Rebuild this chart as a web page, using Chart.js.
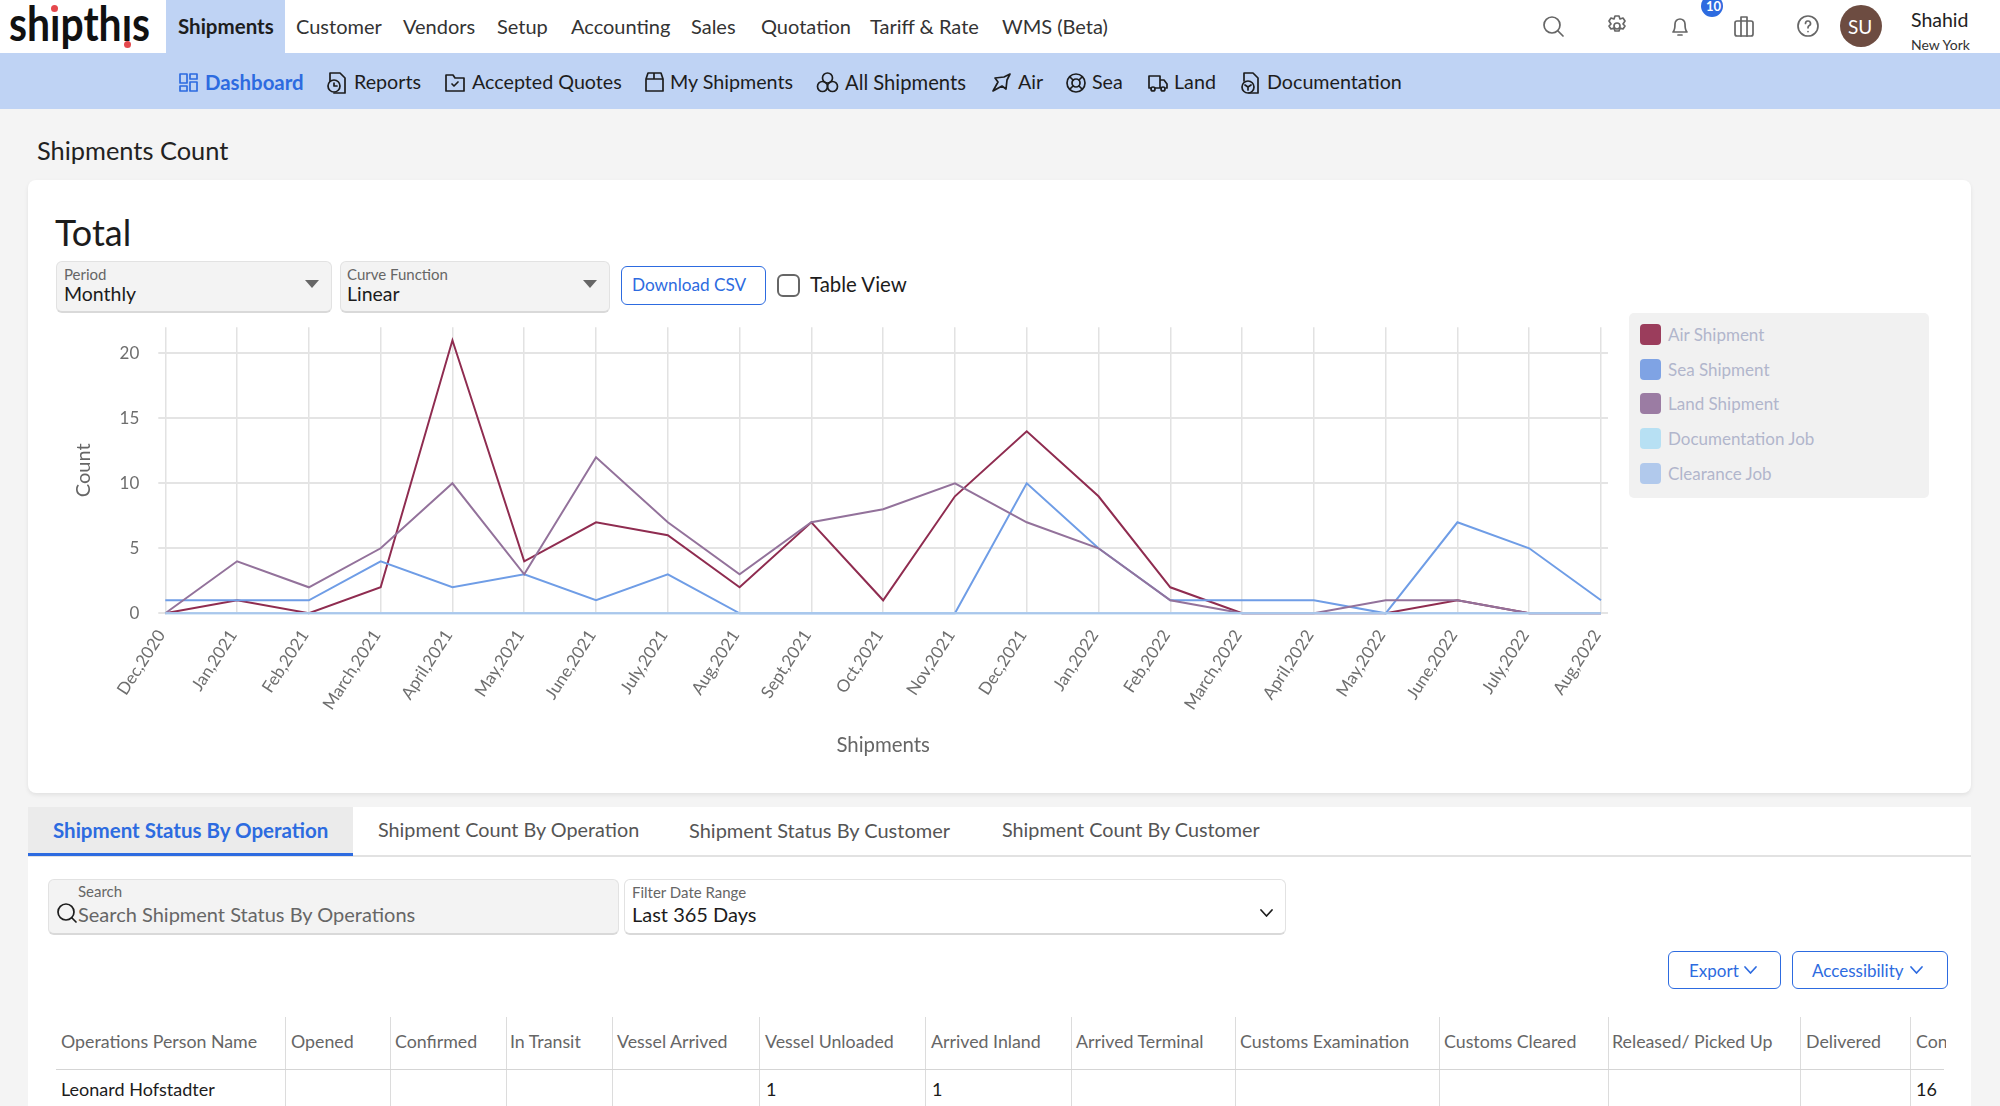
<!DOCTYPE html>
<html>
<head>
<meta charset="utf-8">
<title>Shipments Count</title>
<script src="https://cdn.jsdelivr.net/npm/chart.js@4"></script>
<style>
html, body { margin: 0; padding: 0; }
body { width: 2000px; height: 1106px; overflow: hidden; background: #f4f4f4; position: relative;
  font-family: Lato, "Noto Sans", sans-serif; color: #1c1c1c; }
.box { position: absolute; box-sizing: border-box; }
.t { position: absolute; white-space: nowrap; transform: translateY(-50%); line-height: 1; }
.nav { font-size: 20px; color: #333; top: 26px; }
.sub { font-size: 19.7px; color: #1d1d1d; top: 81.5px; }
.blue { color: #2d6be0; }
.hd { font-size: 17.8px; color: #666; top: 1042px; }
.vl { position: absolute; top: 1017px; bottom: 0; width: 1px; background: #dcdcdc; }
.field { background: #f3f3f3; border: 1px solid #e2e2e2; border-bottom: 2px solid #d9d9d9; border-radius: 6px; }
.small { font-size: 15px; color: #666; }
.btn { border: 1.5px solid #2d6be0; border-radius: 6px; background: #fff; }
svg.i { position: absolute; fill: none; stroke: #1d1d1d; stroke-width: 1.7; stroke-linecap: round; stroke-linejoin: round; }
svg.g { stroke: #666; }
#legend { position: absolute; left: 1629px; top: 313px; width: 300px; height: 185px; background: #f1f1f1; border-radius: 5px; }
#legend div.sw { position: absolute; left: 11px; width: 21px; height: 21px; border-radius: 4px; }
#legend span { position: absolute; left: 39px; font-size: 17px; line-height: 21px; color: #b1b6cc; white-space: nowrap; }
#chartWrap { position: absolute; left: 60px; top: 320px; width: 1560px; height: 450px; }
</style>
</head>
<body>

<!-- top bar -->
<div class="box" style="left:0;top:0;width:2000px;height:53px;background:#fff"></div>
<div class="box" style="left:166px;top:0;width:119px;height:53px;background:#bfd3f4"></div>
<div class="t" style="left:9px;top:23px;font-size:47px;font-weight:700;color:#111;transform:translateY(-50%) scaleX(.87);transform-origin:left center">sh&#305;pth&#305;s</div>
<div class="box" style="left:51px;top:5px;width:7px;height:7px;border-radius:50%;background:#e5484d"></div>
<div class="box" style="left:124px;top:41px;width:7px;height:7px;border-radius:50%;background:#e5484d"></div>
<div class="t nav" style="left:178px;font-size:20.5px;font-weight:700;color:#1d1d1d">Shipments</div>
<div class="t nav" style="left:296px">Customer</div>
<div class="t nav" style="left:403px">Vendors</div>
<div class="t nav" style="left:497px">Setup</div>
<div class="t nav" style="left:571px">Accounting</div>
<div class="t nav" style="left:691px">Sales</div>
<div class="t nav" style="left:761px">Quotation</div>
<div class="t nav" style="left:870px">Tariff &amp; Rate</div>
<div class="t nav" style="left:1002px">WMS (Beta)</div>

<svg class="i g" style="left:1541px;top:14px" width="24" height="24" viewBox="0 0 24 24"><circle cx="11" cy="11" r="8"/><path d="M17 17l5 5"/></svg>
<svg class="i g" style="left:1605px;top:14px" width="24" height="24" viewBox="0 0 24 24"><circle cx="12" cy="12" r="3"/><path d="M10 2h4l1 3 3-1 2 3-2 3 2 2-2 3-3-1-1 3h-4l-1-3-3 1-2-3 2-2-2-3 2-3 3 1z"/></svg>
<svg class="i g" style="left:1668px;top:14px" width="24" height="24" viewBox="0 0 24 24"><path d="M5 18c2-2 2-5 2-8a5 5 0 0 1 10 0c0 3 0 6 2 8zM10 21h4"/></svg>
<svg class="i g" style="left:1732px;top:14px" width="24" height="24" viewBox="0 0 24 24"><rect x="3" y="7" width="18" height="15" rx="2"/><path d="M9 7v15M15 7v15M9 7V3h6v4"/></svg>
<svg class="i g" style="left:1796px;top:14px" width="24" height="24" viewBox="0 0 24 24"><circle cx="12" cy="12" r="10"/><path d="M9.500 9.500a2.500 2.500 0 1 1 3.500 2.300c-.8.400-1 1-1 2M12 17.500v.1"/></svg>
<div class="box" style="left:1701px;top:-5px;width:22px;height:22px;border-radius:50%;background:#2d6be0"></div>
<div class="t" style="left:1706px;top:6px;font-size:13px;font-weight:700;color:#fff">10</div>
<div class="box" style="left:1840px;top:5px;width:42px;height:42px;border-radius:50%;background:#6d4c41"></div>
<div class="t" style="left:1848px;top:26px;font-size:19px;color:#fff">SU</div>
<div class="t" style="left:1911px;top:20px;font-size:19.5px;color:#222">Shahid</div>
<div class="t" style="left:1911px;top:45px;font-size:14px;color:#333">New York</div>

<!-- sub bar -->
<div class="box" style="left:0;top:53px;width:2000px;height:56px;background:#bfd3f4"></div>
<svg class="i" style="left:178px;top:72px;stroke:#2d6be0" width="21" height="21" viewBox="0 0 21 21"><rect x="2" y="2" width="7" height="9"/><rect x="12" y="2" width="7" height="5"/><rect x="2" y="14" width="7" height="5"/><rect x="12" y="10" width="7" height="9"/></svg>
<div class="t sub blue" style="left:205px;font-size:20.4px;font-weight:700">Dashboard</div>
<svg class="i" style="left:326px;top:71px" width="22" height="24" viewBox="0 0 22 24"><path d="M4 10V2h10l5 5v15H8"/><circle cx="8" cy="15" r="6"/><path d="M8 12v3h3"/></svg>
<div class="t sub" style="left:354px">Reports</div>
<svg class="i" style="left:444px;top:72px" width="22" height="21" viewBox="0 0 22 21"><path d="M2 3h7l2 3h9v13H2z"/><path d="M8 12l2 2 4-4"/></svg>
<div class="t sub" style="left:472px">Accepted Quotes</div>
<svg class="i" style="left:644px;top:71px" width="21" height="22" viewBox="0 0 21 22"><path d="M2 8l2-6h13l2 6v12H2zM2 8h17M10 2v6"/></svg>
<div class="t sub" style="left:670px">My Shipments</div>
<svg class="i" style="left:816px;top:71px" width="23" height="23" viewBox="0 0 23 23"><circle cx="11.500" cy="7" r="5"/><circle cx="6.500" cy="15.500" r="5"/><circle cx="16.500" cy="15.500" r="5"/></svg>
<div class="t sub" style="left:845px;font-size:20.200px">All Shipments</div>
<svg class="i" style="left:991px;top:72px" width="21" height="21" viewBox="0 0 21 21"><path d="M19 2l-6 3-9 1 3 4-5 9 9-5 4 3 1-9z"/></svg>
<div class="t sub" style="left:1018px">Air</div>
<svg class="i" style="left:1065px;top:72px" width="22" height="22" viewBox="0 0 22 22"><circle cx="11" cy="11" r="9"/><circle cx="11" cy="11" r="4"/><path d="M5 5l3 3M17 5l-3 3M5 17l3-3M17 17l-3-3"/></svg>
<div class="t sub" style="left:1092px">Sea</div>
<svg class="i" style="left:1147px;top:73px" width="22" height="20" viewBox="0 0 22 20"><path d="M4 15H2V3h11v12H8M13 7h4l3 4v4h-1M13 15h1"/><circle cx="6" cy="16" r="2"/><circle cx="16" cy="16" r="2"/></svg>
<div class="t sub" style="left:1174px">Land</div>
<svg class="i" style="left:1240px;top:71px" width="21" height="24" viewBox="0 0 21 24"><path d="M4 10V2h9l5 5v15H9"/><circle cx="8" cy="16" r="6"/><path d="M8 16v3M8 16l-3-2M8 16l3-2"/></svg>
<div class="t sub" style="left:1267px">Documentation</div>

<div class="t" style="left:37px;top:151px;font-size:25.400px;color:#222">Shipments Count</div>

<!-- chart card -->
<div class="box" style="left:28px;top:180px;width:1943px;height:613px;background:#fff;border-radius:8px;box-shadow:0 2px 4px rgba(0,0,0,.08)"></div>
<div class="t" style="left:55px;top:232px;font-size:36px;color:#1c1c1c">Total</div>

<div class="box field" style="left:56px;top:261px;width:276px;height:52px"></div>
<div class="t small" style="left:64px;top:274px">Period</div>
<div class="t" style="left:64px;top:294px;font-size:19.500px">Monthly</div>
<svg class="box" style="left:305px;top:279px" width="15" height="10"><path d="M0 1h14L7 9z" fill="#666"/></svg>
<div class="box field" style="left:340px;top:261px;width:270px;height:52px"></div>
<div class="t small" style="left:347px;top:274px">Curve Function</div>
<div class="t" style="left:347px;top:294px;font-size:19.500px">Linear</div>
<svg class="box" style="left:583px;top:279px" width="15" height="10"><path d="M0 1h14L7 9z" fill="#666"/></svg>
<div class="box btn" style="left:621px;top:266px;width:145px;height:39px"></div>
<div class="t blue" style="left:632px;top:285px;font-size:17.200px">Download CSV</div>
<div class="box" style="left:777px;top:274px;width:23px;height:23px;border:2px solid #666;border-radius:6px"></div>
<div class="t" style="left:810px;top:284px;font-size:20.400px">Table View</div>

<div id="chartWrap"><canvas id="chartCount"></canvas></div>
<div id="legend"></div>

<!-- tabs -->
<div class="box" style="left:28px;top:807px;width:1943px;height:299px;background:#fff"></div>
<div class="box" style="left:28px;top:855px;width:1943px;height:2px;background:#e2e2e2"></div>
<div class="box" style="left:28px;top:807px;width:325px;height:46px;background:#ebebeb"></div>
<div class="box" style="left:28px;top:853px;width:325px;height:3px;background:#2d6be0"></div>
<div class="t blue" style="left:53px;top:830px;font-size:20.500px;font-weight:700">Shipment Status By Operation</div>
<div class="t" style="left:378px;top:830px;font-size:19.800px;color:#555">Shipment Count By Operation</div>
<div class="t" style="left:689px;top:830px;font-size:20px;color:#555">Shipment Status By Customer</div>
<div class="t" style="left:1002px;top:830px;font-size:19.800px;color:#555">Shipment Count By Customer</div>

<div class="box field" style="left:48px;top:879px;width:571px;height:56px"></div>
<div class="t small" style="left:78px;top:891px">Search</div>
<svg class="i" style="left:56px;top:902px" width="22" height="22" viewBox="0 0 22 22"><circle cx="10" cy="10" r="8"/><path d="M16 16l4 4"/></svg>
<div class="t" style="left:78px;top:914px;font-size:20px;color:#666">Search Shipment Status By Operations</div>
<div class="box field" style="left:624px;top:879px;width:662px;height:56px;background:#fff"></div>
<div class="t small" style="left:632px;top:892px">Filter Date Range</div>
<div class="t" style="left:632px;top:914px;font-size:20px">Last 365 Days</div>
<svg class="i" style="left:1259px;top:907px" width="15" height="12" viewBox="0 0 15 12"><path d="M2 3l5.500 6L13 3"/></svg>

<div class="box btn" style="left:1668px;top:951px;width:113px;height:38px"></div>
<div class="t blue" style="left:1689px;top:970px;font-size:17px">Export</div>
<svg class="i" style="left:1743px;top:964px;stroke:#2d6be0" width="15" height="12" viewBox="0 0 15 12"><path d="M2 3l5.500 6L13 3"/></svg>
<div class="box btn" style="left:1792px;top:951px;width:156px;height:38px"></div>
<div class="t blue" style="left:1812px;top:970px;font-size:17px">Accessibility</div>
<svg class="i" style="left:1909px;top:964px;stroke:#2d6be0" width="15" height="12" viewBox="0 0 15 12"><path d="M2 3l5.500 6L13 3"/></svg>

<!-- table -->
<div class="vl" style="left:285px"></div><div class="vl" style="left:390px"></div><div class="vl" style="left:506px"></div>
<div class="vl" style="left:612px"></div><div class="vl" style="left:759px"></div><div class="vl" style="left:925px"></div>
<div class="vl" style="left:1071px"></div><div class="vl" style="left:1235px"></div><div class="vl" style="left:1439px"></div>
<div class="vl" style="left:1608px"></div><div class="vl" style="left:1800px"></div><div class="vl" style="left:1910px"></div>
<div class="box" style="left:56px;top:1069px;width:1888px;height:1px;background:#d5d5d5"></div>
<div class="t hd" style="left:61px">Operations Person Name</div>
<div class="t hd" style="left:291px">Opened</div>
<div class="t hd" style="left:395px">Confirmed</div>
<div class="t hd" style="left:510px">In Transit</div>
<div class="t hd" style="left:617px">Vessel Arrived</div>
<div class="t hd" style="left:765px">Vessel Unloaded</div>
<div class="t hd" style="left:931px">Arrived Inland</div>
<div class="t hd" style="left:1076px">Arrived Terminal</div>
<div class="t hd" style="left:1240px">Customs Examination</div>
<div class="t hd" style="left:1444px">Customs Cleared</div>
<div class="t hd" style="left:1612px">Released/ Picked Up</div>
<div class="t hd" style="left:1806px">Delivered</div>
<div class="t hd" style="left:1916px;width:30px;overflow:hidden">Con</div>
<div class="t" style="left:61px;top:1089px;font-size:18px">Leonard Hofstadter</div>
<div class="t" style="left:766px;top:1089px;font-size:18px">1</div>
<div class="t" style="left:932px;top:1089px;font-size:18px">1</div>
<div class="t" style="left:1916px;top:1089px;font-size:18px">16</div>

<script>
const months = ["Dec,2020", "Jan,2021", "Feb,2021", "March,2021", "April,2021", "May,2021", "June,2021", "July,2021", "Aug,2021", "Sept,2021", "Oct,2021", "Nov,2021", "Dec,2021", "Jan,2022", "Feb,2022", "March,2022", "April,2022", "May,2022", "June,2022", "July,2022", "Aug,2022"];
const airShipment = [0, 1, 0, 2, 21, 4, 7, 6, 2, 7, 1, 9, 14, 9, 2, 0, 0, 0, 1, 0, 0];
const seaShipment = [1, 1, 1, 4, 2, 3, 1, 3, 0, 0, 0, 0, 10, 5, 1, 1, 1, 0, 7, 5, 1];
const landShipment = [0, 4, 2, 5, 10, 3, 12, 7, 3, 7, 8, 10, 7, 5, 1, 0, 0, 1, 1, 0, 0];
const documentationJob = [0, 0, 0, 0, 0, 0, 0, 0, 0, 0, 0, 0, 0, 0, 0, 0, 0, 0, 0, 0, 0];
const clearanceJob = [0, 0, 0, 0, 0, 0, 0, 0, 0, 0, 0, 0, 0, 0, 0, 0, 0, 0, 0, 0, 0];

const tickColor = "#6e6e6e";
const tickFont = { family: "Lato", size: 17 };

const makeLine = (label, data, color, swatch, order) => ({
    label: label,
    data: data,
    borderColor: color,
    backgroundColor: swatch,
    borderWidth: 2,
    pointRadius: 0,
    tension: 0,
    fill: false,
    order: order
});

const datasets = [
    makeLine("Air Shipment", airShipment, "#8f2c50", "#9b3d5c", 5),
    makeLine("Sea Shipment", seaShipment, "#6f9de6", "#7fa3e4", 4),
    makeLine("Land Shipment", landShipment, "#93729b", "#9b7ca3", 3),
    makeLine("Documentation Job", documentationJob, "#aedff2", "#b7e0f3", 2),
    makeLine("Clearance Job", clearanceJob, "#aac6ec", "#b1c9ec", 1)
];

// legend lives in its own grey box next to the plot
const htmlLegend = {
    id: "htmlLegend",
    afterUpdate(chart) {
        const box = document.getElementById("legend");
        box.innerHTML = "";
        chart.data.datasets.forEach((ds, i) => {
            const sw = document.createElement("div");
            sw.className = "sw";
            sw.style.top = (11 + i * 34.7) + "px";
            sw.style.background = ds.backgroundColor;
            const txt = document.createElement("span");
            txt.style.top = (11 + i * 34.7) + "px";
            txt.textContent = ds.label;
            box.appendChild(sw);
            box.appendChild(txt);
        });
    }
};

// keep the plot area where we put it, labels may overflow the axis boxes
const fixAxis = (scale, size) => {
    if (scale.isHorizontal()) scale.height = size;
    else scale.width = size;
    scale.paddingTop = 0;
    scale.paddingBottom = 0;
    scale.paddingLeft = 0;
    scale.paddingRight = 0;
};

new Chart(document.getElementById("chartCount"), {
    type: "line",
    data: { labels: months, datasets: datasets },
    plugins: [htmlLegend],
    options: {
        responsive: true,
        maintainAspectRatio: false,
        animation: false,
        clip: false,
        layout: { autoPadding: false, padding: { top: 7.3 } },
        plugins: { legend: { display: false }, tooltip: { enabled: false } },
        scales: {
            x: {
                grid: { color: "#e2e2e2", lineWidth: 1.5, drawTicks: false },
                border: { display: false },
                ticks: { color: tickColor, font: tickFont, autoSkip: false, minRotation: 57, maxRotation: 57, padding: 13, labelOffset: -4 },
                title: { display: true, text: "Shipments", color: "#666", font: { family: "Lato", size: 20.4 }, padding: { top: 0, bottom: 12 } },
                afterFit: (scale) => fixAxis(scale, 156.7)
            },
            y: {
                min: 0,
                max: 22,
                grid: { color: "#e4e4e4", lineWidth: 2, tickLength: 7 },
                border: { display: false },
                ticks: { stepSize: 5, includeBounds: false, color: tickColor, font: tickFont, padding: 19 },
                title: { display: true, text: "Count", color: "#666", font: { family: "Lato", size: 20 }, padding: { top: 12, bottom: 4 } },
                afterFit: (scale) => fixAxis(scale, 105.3)
            },
            // no labels here, only gives the short tick stubs on the right edge
            yRight: {
                position: "right",
                min: 0,
                max: 22,
                grid: { color: "#e4e4e4", lineWidth: 2, tickLength: 7, drawOnChartArea: false },
                border: { display: false },
                ticks: { display: false, stepSize: 5, includeBounds: false },
                afterFit: (scale) => fixAxis(scale, 19)
            }
        }
    }
});
</script>
</body>
</html>
